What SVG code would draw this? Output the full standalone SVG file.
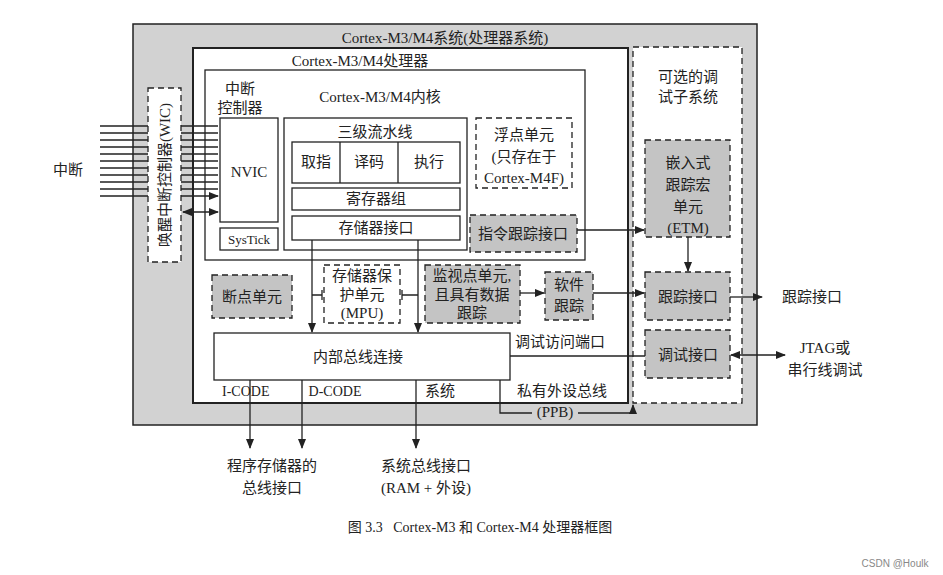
<svg xmlns="http://www.w3.org/2000/svg" width="943" height="575" viewBox="0 0 943 575">
<defs>
<style>
text{font-family:"Liberation Serif","Noto Sans CJK SC",serif;font-size:15px;fill:#222;text-anchor:middle;dominant-baseline:central}
.w{fill:#fff;stroke:#222;stroke-width:1.3}
.wd{fill:#fff;stroke:#222;stroke-width:1.3;stroke-dasharray:6,4}
.gd{fill:#c4c4c4;stroke:#222;stroke-width:1.3;stroke-dasharray:6,4}
.l{stroke:#222;stroke-width:1.3;fill:none}
</style>
<marker id="a" markerWidth="10" markerHeight="8" refX="9" refY="4" orient="auto-start-reverse" markerUnits="userSpaceOnUse"><path d="M0,0L10,4L0,8z" fill="#222"/></marker>
</defs>
<rect width="943" height="575" fill="#fff"/>
<g id="system"><rect x="133" y="24" width="624" height="401" fill="#d2d2d2" stroke="#222" stroke-width="1.5"/><text x="445" y="38">Cortex-M3/M4系统(处理器系统)</text></g>
<g id="processor"><rect x="193" y="48" width="435" height="355" fill="#fff" stroke="#222" stroke-width="2"/><text x="360" y="61">Cortex-M3/M4处理器</text></g>
<g id="core"><rect x="205" y="70" width="380" height="190" class="w"/><text x="380" y="97">Cortex-M3/M4内核</text><text x="240" y="89">中断</text><text x="240" y="108">控制器</text></g>
<g id="nvic"><rect x="220" y="118" width="58" height="104" class="w"/><text x="249" y="172">NVIC</text></g>
<g id="systick"><rect x="220" y="228" width="58" height="22" class="w"/><text x="249" y="239" style="font-size:13px">SysTick</text></g>
<g id="pipeline"><rect x="284" y="118" width="183" height="132" class="w"/><text x="375" y="132">三级流水线</text>
<rect x="292" y="142" width="168" height="41" class="w"/><line x1="340" y1="142" x2="340" y2="183" class="l"/><line x1="398" y1="142" x2="398" y2="183" class="l"/>
<text x="316" y="162">取指</text><text x="369" y="162">译码</text><text x="429" y="162">执行</text></g>
<g id="regs"><rect x="292" y="188" width="168" height="22" class="w"/><text x="376" y="199">寄存器组</text></g>
<g id="memif"><rect x="292" y="216" width="168" height="24" class="w"/><text x="376" y="228">存储器接口</text></g>
<g id="fpu"><rect x="476" y="118" width="96" height="70" class="wd"/><text x="524" y="135">浮点单元</text><text x="524" y="157">(只存在于</text><text x="524" y="178">Cortex-M4F)</text></g>
<g id="itm"><rect x="470" y="215" width="107" height="37" class="gd"/><text x="523" y="234">指令跟踪接口</text></g>
<g id="wic"><rect x="148" y="88" width="33" height="174" class="wd"/><text transform="translate(165,175) rotate(-90)">唤醒中断控制器(WIC)</text></g>
<text x="68" y="170">中断</text>
<g id="bp"><rect x="212" y="275" width="80" height="43" class="gd"/><text x="252" y="297">断点单元</text></g>
<g id="mpu"><rect x="324" y="265" width="76" height="58" class="wd"/><text x="362" y="276">存储器保</text><text x="362" y="295">护单元</text><text x="362" y="313">(MPU)</text></g>
<g id="dwt"><rect x="425" y="265" width="95" height="58" class="gd"/><text x="472" y="276">监视点单元,</text><text x="472" y="295">且具有数据</text><text x="472" y="313">跟踪</text></g>
<g id="swt"><rect x="545" y="272" width="48" height="48" class="gd"/><text x="569" y="285">软件</text><text x="569" y="306">跟踪</text></g>
<g id="bus"><rect x="214" y="333" width="296" height="47" class="w"/><text x="358" y="357">内部总线连接</text></g>
<g id="dbgsys"><rect x="633" y="47" width="109" height="356" class="wd"/><text x="688" y="77">可选的调</text><text x="688" y="97">试子系统</text></g>
<g id="etm"><rect x="645" y="140" width="85" height="97" class="gd"/><text x="688" y="163">嵌入式</text><text x="688" y="185">跟踪宏</text><text x="688" y="207">单元</text><text x="688" y="228">(ETM)</text></g>
<g id="tpiu"><rect x="645" y="272" width="85" height="48" class="gd"/><text x="688" y="297">跟踪接口</text></g>
<g id="dap"><rect x="645" y="330" width="85" height="48" class="gd"/><text x="688" y="355">调试接口</text></g>
<g id="labels">
<text x="560" y="342">调试访问端口</text>
<text x="222" y="391" style="text-anchor:start;font-size:14px">I-CODE</text>
<text x="335" y="391" style="font-size:14px">D-CODE</text>
<text x="440" y="391">系统</text><text x="562" y="391">私有外设总线</text>
<text x="555" y="412">(PPB)</text>
<text x="812" y="297">跟踪接口</text>
<text x="825" y="348">JTAG或</text><text x="825" y="370">串行线调试</text>
<text x="272" y="466">程序存储器的</text><text x="272" y="488">总线接口</text>
<text x="426" y="466">系统总线接口</text><text x="426" y="488">(RAM + 外设)</text>
<text x="480" y="527" style="font-size:14px;white-space:pre" xml:space="preserve">图 3.3   Cortex-M3 和 Cortex-M4 处理器框图</text>
<text x="895" y="563" style="font-size:10px;fill:#888;font-family:'Liberation Sans',sans-serif">CSDN @Houlk</text>
</g>
<g id="connectors" class="l">
<path d="M100 126H148M100 133H148M100 140H148M100 147H148M100 154H148M100 161H148M100 168H148M100 175H148M100 182H148M100 189H148M100 196H148" class="l"/>
<g marker-end="url(#a)">
<path d="M181 126H218M181 133H218M181 140H218M181 147H218M181 154H218M181 161H218M181 168H218M181 175H218M181 182H218M181 189H218M181 196H218" class="l"/>
</g>
<line x1="183" y1="212" x2="218" y2="212" class="l" marker-start="url(#a)" marker-end="url(#a)"/>
<line x1="312" y1="240" x2="312" y2="332" class="l" marker-end="url(#a)"/>
<line x1="418" y1="240" x2="418" y2="332" class="l" marker-end="url(#a)"/>
<path d="M312 295H322M322 290V300M402 295H418M402 290V300" class="l"/>
<line x1="520" y1="293" x2="544" y2="293" class="l" marker-end="url(#a)"/>
<line x1="593" y1="293" x2="644" y2="293" class="l" marker-end="url(#a)"/>
<line x1="577" y1="230" x2="644" y2="230" class="l" marker-end="url(#a)"/>
<line x1="688" y1="237" x2="688" y2="271" class="l" marker-end="url(#a)"/>
<line x1="730" y1="297" x2="762" y2="297" class="l" marker-end="url(#a)"/>
<line x1="510" y1="356" x2="645" y2="356" class="l"/>
<line x1="731" y1="355" x2="785" y2="355" class="l" marker-start="url(#a)" marker-end="url(#a)"/>
<line x1="250" y1="380" x2="250" y2="448" class="l" marker-end="url(#a)"/>
<line x1="302" y1="380" x2="302" y2="448" class="l" marker-end="url(#a)"/>
<line x1="416" y1="380" x2="416" y2="448" class="l" marker-end="url(#a)"/>
<path d="M500 380V413H532M578 413H633V405" class="l" marker-end="url(#a)"/>
</g>
</svg>
